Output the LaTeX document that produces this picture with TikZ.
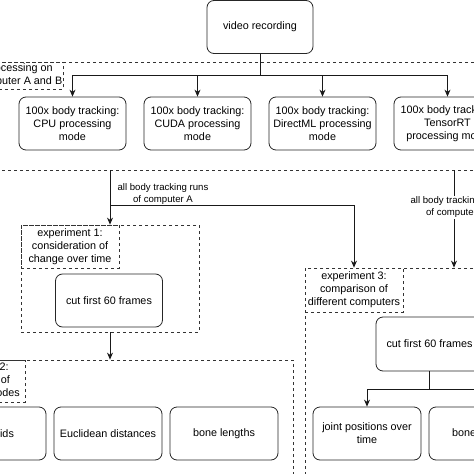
\documentclass[tikz,border=0pt]{standalone}
\usepackage{fontspec}
\setmainfont{Liberation Sans}
\usetikzlibrary{arrows.meta}
\newcommand{\mainfs}{\fontsize{10.8}{12.8}\selectfont}
\newcommand{\labfs}{\fontsize{9.6}{12}\selectfont}
\begin{document}
\begin{tikzpicture}[x=1pt,y=-1pt,
  box/.style={draw=black!85, line width=0.8pt, rounded corners=7pt, align=center,
    minimum width=107pt, minimum height=53pt, inner sep=1pt, font=\mainfs},
  grp/.style={draw=black!80, line width=0.8pt, dash pattern=on 3pt off 3pt},
  grpnode/.style={grp, inner sep=0pt},
  lab/.style={grp, align=center, inner sep=1pt, font=\mainfs},
  conn/.style={line width=0.8pt, draw=black!90},
  arr/.style={conn, -{Stealth[length=7pt,width=6pt]}},
  elab/.style={align=center, inner sep=1pt, font=\labfs}]
\useasboundingbox (0,0) rectangle (474,474);
% groups
\node[grpnode, minimum width=494pt, minimum height=108pt] (reg1) at (237,116) {};
\node[draw=none, inner sep=0pt, minimum width=494pt, minimum height=304pt] (reg2) at (237,322) {};
\draw[grp] (reg2.north west) |- (reg2.south east) -- (reg2.north east);
\node[lab, minimum width=88pt, minimum height=27pt] (reglab) at (19,75.5) {processing on\\computer A and B};
% top
\node[box, minimum width=106pt] (vid) at (260,27) {video recording};
\node[box] (bt1) at (72.5,123.5) {100x body tracking:\\CPU processing\\mode};
\node[box] (bt2) at (197.5,123.5) {100x body tracking:\\CUDA processing\\mode};
\node[box] (bt3) at (322.5,123.5) {100x body tracking:\\DirectML processing\\mode};
\node[box] (bt4) at (447.5,123.5) {100x body tracking:\\TensorRT\\processing mode};
\coordinate (hub) at (260,75);
\draw[conn] (vid.south) -- (hub);
\draw[arr] (hub) -| (bt1.north);
\draw[arr] (hub) -| (bt2.north);
\draw[arr] (hub) -| (bt3.north);
\draw[arr] (hub) -| (bt4.north);
% experiment 1
\node[grpnode, minimum width=178pt, minimum height=107pt] (exp1) at (110,278.5) {};
\node[lab, minimum width=98pt, minimum height=43pt] (exp1lab) at (70,246.5) {experiment 1:\\consideration of\\change over time};
\node[box] (cut1) at (109,300.5) {cut first 60 frames};
% experiment 2
\node[grpnode, minimum width=373pt, minimum height=114pt] (exp2) at (106.5,417) {};
\node[lab, minimum width=98pt, minimum height=42pt] (exp2lab) at (-24,381) {experiment 2:\\comparison of\\processing modes};
\node[box, minimum width=108pt] (c1) at (-8,433.5) {centroids};
\node[box, minimum width=108pt] (c2) at (108,433.5) {Euclidean distances};
\node[box, minimum width=108pt] (c3) at (224,433.5) {bone lengths};
% experiment 3
\node[grpnode, minimum width=185pt, minimum height=206pt] (exp3) at (397.5,371) {};
\node[lab, minimum width=98pt, minimum height=44pt] (exp3lab) at (354,290) {experiment 3:\\comparison of\\different computers};
\node[box, minimum height=54pt] (cut3) at (429.5,344) {cut first 60 frames};
\node[box, minimum width=108pt] (j1) at (367,433.5) {joint positions over\\time};
\node[box, minimum width=108pt] (j2) at (483,433.5) {bone lengths};
% connectors A
\coordinate (a0) at (110,170);
\coordinate (abr) at (110,205.5);
\draw[arr] (a0) -- (exp1.north);
\draw[arr] (abr) -| (exp3lab.north);
\node[elab] (alab) at (163,194) {all body tracking runs\\of computer A};
% connectors B
\coordinate (b0) at (454,170);
\draw[arr] (b0) -- (b0 |- exp3.north);
\node[elab, fill=white] (blab) at (456,207.5) {all body tracking runs\\of computer B};
% exp1 -> exp2
\draw[arr] (exp1.south) -- (exp1.south |- exp2.north);
% cut3 -> children
\coordinate (chub) at (429.5,389);
\draw[conn] (cut3.south) -- (chub);
\draw[arr] (chub) -| (j1.north);
\draw[arr] (chub) -| (j2.north);
\end{tikzpicture}
\end{document}
